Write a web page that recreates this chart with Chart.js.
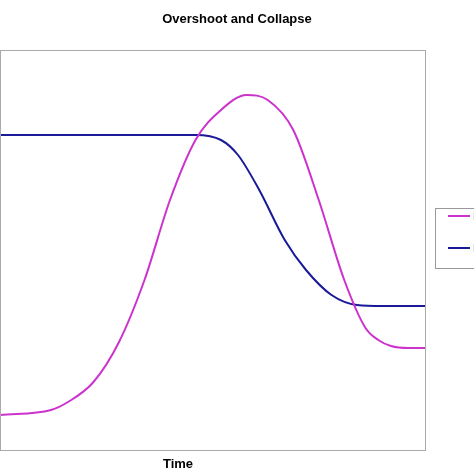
<!DOCTYPE html><html><head><script src="https://cdn.jsdelivr.net/npm/chart.js@4"></script>
<style>html,body{margin:0;background:#fff}#w{width:474px;height:474px}</style></head><body><div id="w"><canvas id="c"></canvas></div>
<script>
const time=[0,12,16,22,28,34,40,46,52,58,63,69,75,81,86,89,92,96,100];
const popPx=[415,410,402,382,342,280,200,140,110,95,100,130,200,280,328,340,346,348,348];
const resTime=[0,46,52,56,61,67,72,78,84,90,95,100];
const resPx=[135,135,140,155,190,240,270,295,305,306,306,306];
const toVal=p=>(450-p)/4;
const pop=time.map((t,i)=>({x:t,y:toVal(popPx[i])}));
const res=resTime.map((t,i)=>({x:t,y:toVal(resPx[i])}));
const labels=['Population','Resources'];
const deco={id:'deco',afterDraw(ch){const c=ch.ctx,a=ch.chartArea;c.save();
c.strokeStyle='#aaa';c.lineWidth=1;c.strokeRect(a.left+0.5,a.top+0.5,a.right-a.left,a.bottom-a.top);
c.fillStyle='#000';c.font='bold 13px Arial, Liberation Sans';c.textAlign='center';
c.fillText('Overshoot and Collapse',237,23);c.fillText('Time',178,468);
c.strokeStyle='#999';c.strokeRect(435.5,208.5,50,60);
const cols=['#cc33cc','#1a1a99'];
[0,1].forEach(i=>{const y=216+i*32;c.strokeStyle=cols[i];c.lineWidth=2;c.beginPath();c.moveTo(448,y);c.lineTo(470,y);c.stroke();
c.fillStyle='#000';c.font='11px Arial';c.textAlign='left';c.fillText(labels[i],473,y+4);});
c.restore();}};
new Chart(document.getElementById('c'),{type:'line',data:{datasets:[
{label:labels[0],data:pop,borderColor:'#cc33cc',borderWidth:2,pointRadius:0,cubicInterpolationMode:'monotone'},
{label:labels[1],data:res,borderColor:'#1a1a99',borderWidth:2,pointRadius:0,cubicInterpolationMode:'monotone'}]},
options:{responsive:true,maintainAspectRatio:false,animation:false,layout:{padding:{left:0,right:49,top:50,bottom:24}},
plugins:{legend:{display:false},tooltip:{enabled:false}},
scales:{x:{type:'linear',min:0,max:100,display:false},y:{min:0,max:100,display:false}}},plugins:[deco]});
</script></body></html>
